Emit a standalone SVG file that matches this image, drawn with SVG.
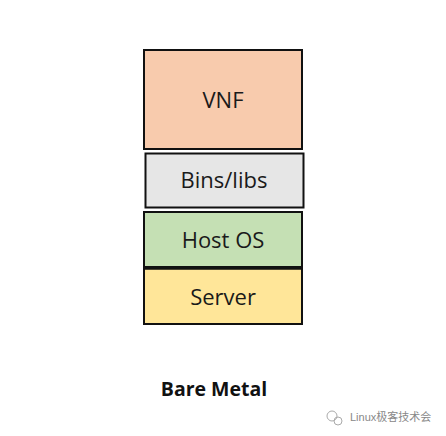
<svg xmlns="http://www.w3.org/2000/svg" width="446" height="436" viewBox="0 0 446 436">
<style>
.box{stroke:#111;stroke-width:2}
.lbl{font-family:"Open Sans","Liberation Sans",sans-serif;font-size:22px;fill:#1a1a1a;text-anchor:middle}
.title{font-family:"Open Sans","Liberation Sans",sans-serif;font-size:19.5px;font-weight:bold;fill:#111;text-anchor:middle}
.wm{font-family:"Liberation Sans","Noto Sans CJK SC",sans-serif;font-size:11px;fill:#888}
</style>
<rect width="446" height="436" fill="#fff"/>
<g id="vnf">
<rect class="box" x="144" y="50" width="158" height="99" fill="#F8CBAD"/>
<text class="lbl" x="223" y="108">VNF</text>
</g>
<g id="bins">
<rect class="box" x="145.5" y="153.5" width="158" height="54" fill="#E6E6E6"/>
<text class="lbl" x="224" y="188">Bins/libs</text>
</g>
<g id="hostos">
<rect class="box" x="144" y="212" width="158" height="55" fill="#C5E0B4"/>
<text class="lbl" x="223" y="248">Host OS</text>
</g>
<g id="server">
<rect class="box" x="144" y="268.5" width="158" height="55.5" fill="#FFE699"/>
<line x1="143" y1="268" x2="303" y2="268" stroke="#111" stroke-width="3"/>
<text class="lbl" x="223" y="305">Server</text>
</g>
<g id="connectors"/>
<text class="title" x="214" y="396">Bare Metal</text>
<g id="watermark">
<circle cx="332" cy="416" r="5" fill="none" stroke="#aaa" stroke-width="1"/>
<circle cx="338" cy="421" r="4" fill="none" stroke="#aaa" stroke-width="1"/>
<text class="wm" x="350" y="421">Linux极客技术会</text>
</g>
</svg>
